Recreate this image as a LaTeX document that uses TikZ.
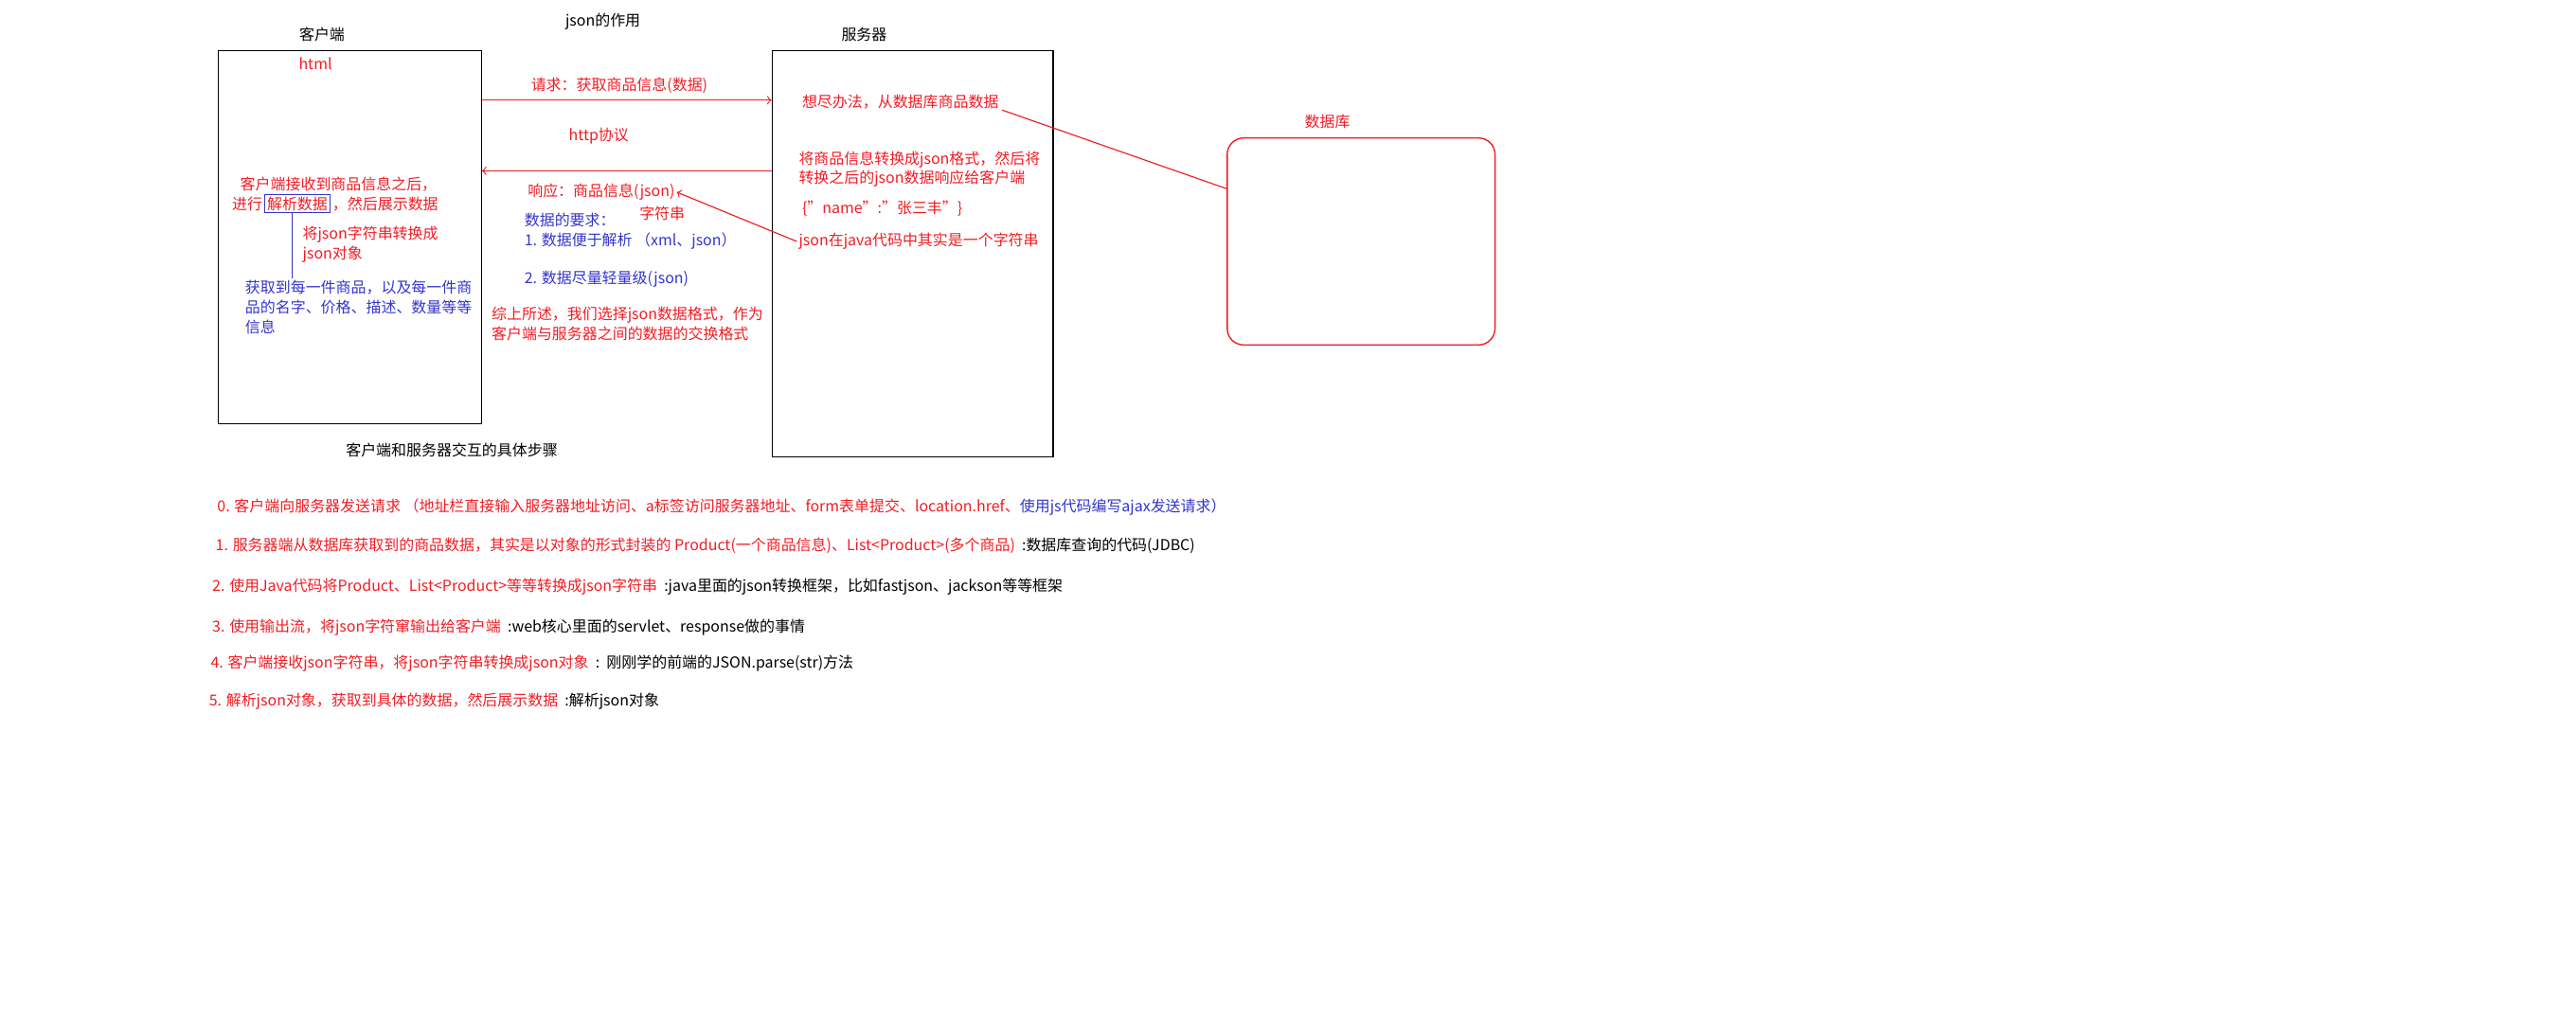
\documentclass[tikz,border=0pt]{standalone}
\usepackage{fontspec}
\setmainfont{Noto Sans CJK SC}
\usepackage{xcolor}
\usetikzlibrary{positioning,fit}
\definecolor{txtred}{RGB}{240,28,36}
\definecolor{txtblue}{RGB}{52,52,204}
\newcommand{\gapcol}{\hspace{0.45em}}

\begin{document}
\begin{tikzpicture}[x=0.75pt,y=0.75pt,yscale=-1,xscale=1,
    lbl/.style={anchor=west,inner sep=0.75pt,font=\fontsize{6.9}{9}\selectfont,align=left},
    rtxt/.style={lbl,text=txtred},
    btxt/.style={lbl,text=txtblue},
    ktxt/.style={lbl,text=black},
    frame/.style={draw,line width=0.6pt,inner sep=0pt},
    wire/.style={draw=txtred,line width=0.5pt}]
    %set diagram to the full sheet, margins included
    \useasboundingbox (0,0) rectangle (1568,618);

    %Shape: client, server, database
    \node [frame, fit={(133,31) (293,258)}] (client) {};
    \node [frame, fit={(470,31) (641,278)}] (server) {};
    \node [frame, draw=txtred, rounded corners=7.5pt, fit={(747,84) (910,210)}] (db) {};

    % Text Node: titles
    \node [ktxt, anchor=center] (title) at (367,13) {json的作用};
    \node [ktxt, anchor=center] (clientlbl) at (196,21) {客户端};
    \node [ktxt, anchor=center] (serverlbl) at (526,21) {服务器};
    \node [rtxt, anchor=center] (dblbl) at (808,74) {数据库};
    \node [rtxt, anchor=center] (html) at (192,39) {html};

    % Text Node: between the boxes
    \node [rtxt] (reql) at (322,52) {请求：获取商品信息(数据)};
    \node [rtxt] (http) at (345,83) {http协议};
    \node [rtxt] (respl) at (320,117) {响应：商品信息(json)};
    \node [rtxt] (str) at (388,130) {字符串};
    \node [btxt] (need) at (318,134) {数据的要求：};
    \node [btxt] (need1) at (318,147) {1. 数据便于解析 （xml、json）};
    \node [btxt] (need2) at (318,170) {2. 数据尽量轻量级(json)};
    \node [rtxt] (sum) at (298,197) {综上所述，我们选择json数据格式，作为\\客户端与服务器之间的数据的交换格式};

    % Text Node: client side
    \node [rtxt] (recv) at (145,112) {客户端接收到商品信息之后，};
    \node [rtxt, anchor=center, draw=txtblue, line width=0.5pt, inner sep=1pt] (jiexi) at (181,124) {解析数据};
    \node [rtxt, left=0pt of jiexi] (l2a) {进行};
    \node [rtxt, right=0pt of jiexi] (l2c) {，然后展示数据};
    \node [rtxt] (conv) at (183,149) {将json字符串转换成\\json对象};
    \node [btxt] (info) at (148,187) {获取到每一件商品，以及每一件商\\品的名字、价格、描述、数量等等\\信息};

    % Text Node: server side
    \node [rtxt] (think) at (487,62) {想尽办法，从数据库商品数据};
    \node [rtxt] (tojson) at (485,103) {将商品信息转换成json格式，然后将\\转换之后的json数据响应给客户端};
    \node [rtxt] (sample) at (487,127) {\{"name":"张三丰"\}};
    \node [rtxt] (jstr) at (485,147) {json在java代码中其实是一个字符串};

    %Straight Lines: connectors
    \coordinate (req) at (380,61);
    \coordinate (resp) at (380,104);
    \coordinate (thinkend) at (610,67);
    \coordinate (dbhit) at (747,115);
    \draw [wire,->] (client.east |- req) -- (server.west |- req);
    \draw [wire,->] (server.west |- resp) -- (client.east |- resp);
    \draw [wire] (thinkend) -- (dbhit);
    \draw [wire,->] (jstr.west) -- (respl.east);
    \draw [txtblue,line width=0.5pt] ([xshift=-2.25pt]jiexi.south) -- ([xshift=-2.25pt]jiexi.south |- info.north);

    % Text Node: steps
    \node [ktxt, anchor=center] (steps) at (275,274) {客户端和服务器交互的具体步骤};
    \node [rtxt] (s0) at (131,309) {0. 客户端向服务器发送请求 （地址栏直接输入服务器地址访问、a标签访问服务器地址、form表单提交、location.href、\textcolor{txtblue}{使用js代码编写ajax发送请求）}};
    \node [rtxt] (s1) at (130,332) {1. 服务器端从数据库获取到的商品数据，其实是以对象的形式封装的 Product(一个商品信息)、List<Product>(多个商品)\gapcol\textcolor{black}{:数据库查询的代码(JDBC)}};
    \node [rtxt] (s2) at (128,357) {2. 使用Java代码将Product、List<Product>等等转换成json字符串\gapcol\textcolor{black}{:java里面的json转换框架，比如fastjson、jackson等等框架}};
    \node [rtxt] (s3) at (128,382) {3. 使用输出流，将json字符窜输出给客户端\gapcol\textcolor{black}{:web核心里面的servlet、response做的事情}};
    \node [rtxt] (s4) at (127,404) {4. 客户端接收json字符串，将json字符串转换成json对象\gapcol\textcolor{black}{:\gapcol 刚刚学的前端的JSON.parse(str)方法}};
    \node [rtxt] (s5) at (126,427) {5. 解析json对象，获取到具体的数据，然后展示数据\gapcol\textcolor{black}{:解析json对象}};

\end{tikzpicture}
\end{document}
